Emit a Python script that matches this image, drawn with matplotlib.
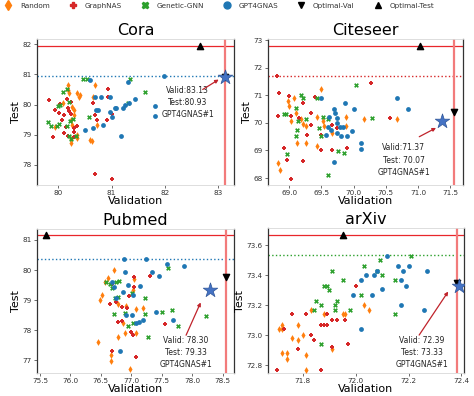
import matplotlib
matplotlib.use("Agg")
import matplotlib.pyplot as plt
from matplotlib.lines import Line2D
from matplotlib.ticker import FormatStrFormatter

# ================= DATA =================
# Cora
cora_rand_val = [80.19, 80.19, 80.21, 80.35, 80.38, 80.41, 80.26, 80.29, 80.30, 80.23, 80.26,
                 80.35, 80.24, 80.23, 80.35, 80.69, 80.66, 80.73, 80.60, 80.63, 79.94, 80.09]
cora_rand_test = [80.64, 80.48, 80.37, 80.37, 80.26, 80.31, 79.92, 79.81, 79.65, 79.48, 79.32,
                  78.99, 78.84, 78.71, 78.88, 80.64, 80.26, 79.32, 78.82, 78.79, 79.26, 80.06]
cora_gnas_val = [79.82, 79.94, 80.04, 80.01, 80.07, 80.10, 79.91, 80.19, 80.16, 80.23, 80.21, 80.24,
                 80.15, 80.19, 80.30, 80.29, 80.35, 80.30, 80.10, 80.66, 80.68, 80.73, 80.94, 80.94,
                 80.91, 81.01, 80.68, 81.01]
cora_gnas_test = [80.15, 79.81, 80.01, 79.71, 79.48, 79.06, 78.93, 79.90, 80.20, 80.09, 79.79, 79.67,
                  79.26, 78.95, 78.93, 79.21, 79.28, 79.10, 79.65, 80.04, 79.65, 79.48, 80.53, 80.26,
                  79.48, 79.67, 77.68, 77.54]
cora_gen_val = [80.46, 80.53, 81.34, 81.62, 80.09, 80.17, 80.00, 80.03, 79.81, 79.87, 79.97,
                80.02, 80.16, 80.22, 80.28, 80.21, 80.23, 80.33, 80.58, 81.30, 80.20]
cora_gen_test = [80.86, 80.86, 80.86, 80.41, 80.41, 80.52, 79.95, 80.00, 79.42, 79.30, 79.30,
                 79.34, 79.30, 79.45, 79.53, 78.95, 78.87, 78.95, 79.60, 80.06, 80.10]
cora_gpt_val = [80.59, 81.31, 81.99, 80.68, 80.81, 80.97, 81.44, 80.71, 80.75, 80.97, 81.06,
                81.09, 81.22, 81.26, 81.32, 81.81, 81.82, 81.01, 80.84, 80.65, 80.51, 81.18]
cora_gpt_test = [80.83, 80.75, 80.94, 80.26, 80.26, 80.26, 80.20, 79.81, 79.81, 79.75, 79.88,
                 79.88, 79.88, 80.00, 80.06, 79.95, 79.62, 79.57, 79.33, 79.21, 79.14, 78.95]

# Citeseer
cite_rand_val = [69.50, 69.07, 68.98, 69.00, 69.10, 69.03, 69.18, 69.22, 69.27, 69.13, 69.27,
                 69.44, 69.44, 69.53, 69.54, 69.88, 69.88, 70.16, 70.67, 68.83, 68.86, 69.67]
cite_rand_test = [71.24, 70.91, 70.79, 70.61, 70.37, 70.07, 70.15, 69.98, 69.88, 69.26, 69.26,
                  69.18, 70.22, 70.07, 69.88, 70.22, 69.88, 70.13, 70.13, 68.53, 68.31, 69.62]
cite_gnas_val = [68.81, 68.84, 69.00, 68.83, 69.03, 69.22, 69.40, 69.16, 69.34, 69.28, 69.49, 69.67,
                 69.74, 70.27, 70.57, 68.92, 68.96, 69.21, 69.03, 69.50, 69.67, 69.90, 69.34]
cite_gnas_test = [71.70, 71.09, 70.97, 70.25, 70.25, 70.73, 70.95, 70.19, 69.91, 69.55, 69.58, 69.91,
                  69.82, 71.45, 70.19, 69.10, 68.65, 68.62, 67.98, 69.01, 69.01, 69.10, 70.37]
cite_gen_val = [69.19, 69.22, 69.10, 68.92, 68.95, 69.27, 69.13, 69.10, 68.96, 69.44, 69.53,
                69.60, 69.47, 69.50, 69.76, 69.85, 69.60, 70.04, 70.29, 69.14]
cite_gen_test = [71.03, 70.91, 70.55, 70.31, 70.31, 70.13, 69.76, 69.52, 68.86, 70.91, 70.22,
                 70.15, 69.82, 69.52, 68.98, 68.92, 68.10, 71.36, 70.19, 70.07]
cite_gpt_val = [69.50, 69.86, 70.00, 70.67, 70.84, 69.70, 69.72, 69.75, 69.74, 69.83, 69.79,
                69.75, 69.62, 69.60, 69.57, 69.65, 69.97, 69.81, 69.90, 70.12, 70.12, 69.69]
cite_gpt_test = [70.91, 70.73, 70.51, 70.91, 70.51, 70.51, 70.37, 70.19, 70.00, 69.86, 69.86,
                 69.64, 70.22, 69.86, 69.55, 69.74, 69.70, 69.52, 69.52, 69.26, 69.04, 68.58]

# Pubmed
pub_rand_val = [76.71, 76.61, 76.57, 76.52, 76.49, 77.02, 77.05, 76.78, 76.91, 77.08, 77.20,
                76.86, 76.90, 76.78, 77.08, 76.45, 76.67, 76.66, 76.98]
pub_rand_test = [80.00, 79.74, 79.59, 79.17, 79.00, 79.33, 79.70, 78.86, 78.81, 78.70, 78.72,
                 78.22, 77.89, 77.78, 77.89, 77.59, 77.17, 76.97, 76.70]
pub_gnas_val = [77.05, 77.04, 77.30, 76.65, 76.75, 76.85, 76.93, 76.97, 76.78, 76.85, 76.99,
                77.02, 76.68, 77.07, 77.56, 76.68]
pub_gnas_test = [79.78, 79.44, 79.81, 78.86, 78.92, 78.78, 78.74, 79.14, 78.28, 78.30, 77.94,
                 77.83, 77.30, 77.11, 78.19, 79.52]
pub_gen_val = [76.59, 76.65, 76.69, 76.75, 76.80, 76.74, 76.78, 77.01, 77.22, 76.71, 76.90,
               77.22, 77.02, 76.94, 77.27, 77.51, 77.60, 77.67, 77.76, 78.22]
pub_gen_test = [79.61, 79.55, 79.41, 79.61, 79.63, 79.08, 79.11, 79.22, 79.08, 78.52, 78.56,
                78.52, 78.22, 78.14, 77.78, 78.59, 80.08, 78.68, 78.14, 78.48]
pub_gpt_val = [76.88, 77.24, 77.59, 77.86, 77.34, 77.46, 76.90, 76.68, 76.72, 76.75, 76.87,
               76.94, 77.14, 77.03, 77.01, 77.08, 77.12, 77.19, 77.40, 77.69, 76.82, 76.91]
pub_gpt_test = [80.37, 80.37, 80.20, 80.14, 79.94, 79.81, 79.94, 79.61, 79.44, 79.08, 79.28,
                79.50, 79.47, 79.17, 78.50, 78.22, 78.28, 78.33, 78.59, 78.33, 77.30, 78.50]

# arXiv
arx_rand_val = [71.83, 71.78, 71.71, 71.72, 71.72, 71.76, 71.78, 71.80, 71.72, 71.74, 71.74,
                71.81, 71.81, 71.91, 71.95, 71.96, 72.03, 72.05, 71.88]
arx_rand_test = [73.17, 73.07, 73.04, 73.04, 73.07, 72.98, 72.97, 73.00, 72.88, 72.88, 72.84,
                 72.87, 72.77, 72.91, 73.14, 73.14, 73.20, 73.17, 73.14]
arx_gnas_val = [71.76, 71.81, 72.00, 71.87, 71.88, 71.89, 71.91, 71.93, 71.96, 71.97, 71.83,
                71.84, 71.89, 71.78, 71.91, 71.87, 71.70, 71.73]
arx_gnas_test = [73.14, 73.14, 73.33, 73.07, 73.07, 73.07, 73.10, 73.10, 73.10, 72.94, 73.00,
                 72.97, 73.14, 72.91, 72.92, 72.77, 72.77, 73.04]
arx_gen_val = [72.21, 72.09, 72.03, 72.10, 71.91, 71.95, 71.88, 71.89, 71.90, 71.85, 71.84,
               71.87, 71.92, 71.92, 71.93, 71.98, 72.02, 72.15, 72.15, 71.87, 72.08]
arx_gen_test = [73.53, 73.50, 73.46, 73.40, 73.43, 73.37, 73.33, 73.33, 73.30, 73.23, 73.17,
                73.20, 73.20, 73.17, 73.23, 73.17, 73.27, 73.37, 73.14, 72.94, 73.43]
arx_gpt_val = [72.12, 72.16, 72.18, 72.20, 72.27, 72.08, 72.07, 72.04, 72.02, 72.17, 72.19,
               72.10, 71.99, 72.06, 72.17, 72.26, 72.02]
arx_gpt_test = [73.53, 73.46, 73.43, 73.46, 73.43, 73.43, 73.40, 73.40, 73.37, 73.37, 73.33,
                73.31, 73.27, 73.27, 73.20, 73.17, 73.04]

datasets = ["Cora", "Citeseer", "Pubmed", "arXiv"]
best_val = [83.13, 71.37, 78.30, 72.39]
best_test = [80.93, 70.07, 79.33, 73.33]
# optimal-val point (black v) and optimal-test point (black ^)
opt_val_x = [83.13, 71.56, 78.55, 72.385]
opt_val_y = [80.93, 70.40, 79.77, 73.35]
opt_test_x = [82.65, 71.03, 75.60, 71.95]
opt_test_y = [81.96, 72.78, 81.17, 73.667]
search_best_test = [80.95, 71.72, 80.37, 73.533]
search_best_color = ["#1f77b4", "#d62728", "#1f77b4", "#2ca02c"]

series_val = [
    [cora_rand_val, cora_gnas_val, cora_gen_val, cora_gpt_val],
    [cite_rand_val, cite_gnas_val, cite_gen_val, cite_gpt_val],
    [pub_rand_val, pub_gnas_val, pub_gen_val, pub_gpt_val],
    [arx_rand_val, arx_gnas_val, arx_gen_val, arx_gpt_val],
]
series_test = [
    [cora_rand_test, cora_gnas_test, cora_gen_test, cora_gpt_test],
    [cite_rand_test, cite_gnas_test, cite_gen_test, cite_gpt_test],
    [pub_rand_test, pub_gnas_test, pub_gen_test, pub_gpt_test],
    [arx_rand_test, arx_gnas_test, arx_gen_test, arx_gpt_test],
]
series_names = ["Random", "GraphNAS", "Genetic-GNN", "GPT4GNAS"]
series_colors = ["#ff7f0e", "#d62728", "#2ca02c", "#1f77b4"]
series_markers = ["d", "P", "X", "o"]

# ================= LAYOUT =================
axes_rects = [
    [0.078, 0.533, 0.416, 0.368],
    [0.565, 0.533, 0.412, 0.368],
    [0.078, 0.058, 0.416, 0.364],
    [0.565, 0.058, 0.414, 0.366],
]
xlims = [(79.6, 83.3), (68.67, 71.70), (75.45, 78.69), (71.667, 72.41)]
ylims = [(77.33, 82.17), (67.75, 73.04), (76.57, 81.37), (72.747, 73.713)]
xticks = [[80, 81, 82, 83], [69.0, 69.5, 70.0, 70.5, 71.0, 71.5],
          [75.5, 76.0, 76.5, 77.0, 77.5, 78.0, 78.5], [71.8, 72.0, 72.2, 72.4]]
yticks = [[78, 79, 80, 81, 82], [68, 69, 70, 71, 72, 73],
          [77, 78, 79, 80, 81], [72.8, 73.0, 73.2, 73.4, 73.6]]
xfmt = ["%d", "%.1f", "%.1f", "%.1f"]
yfmt = ["%d", "%d", "%d", "%.1f"]
# annotation: text centre, arrow tail, arrow head
text_pos = [(82.43, 80.06), (70.78, 68.65), (77.90, 77.25), (72.25, 72.885)]
arrow_from = [(82.71, 80.50), (71.02, 69.50), (77.90, 77.83), (72.24, 73.00)]
arrow_to = [(83.01, 80.83), (71.28, 69.82), (78.14, 78.92), (72.35, 73.29)]
labels = ["Valid:83.13\nTest:80.93\nGPT4GNAS#1",
          "Valid:71.37\nTest: 70.07\nGPT4GNAS#1",
          "Valid: 78.30\nTest: 79.33\nGPT4GNAS#1",
          "Valid: 72.39\nTest: 73.33\nGPT4GNAS#1"]

# ================= PLOT =================
fig = plt.figure(figsize=(4.74, 3.96), dpi=100)

for i, name in enumerate(datasets):
    ax = fig.add_axes(axes_rects[i])
    for vals, tests, c, m in zip(series_val[i], series_test[i], series_colors, series_markers):
        ax.scatter(vals, tests, s=12, color=c, marker=m, linewidths=0, zorder=3)

    ax.axhline(search_best_test[i], color=search_best_color[i], linestyle=":", lw=1.0, zorder=2)
    ax.axhline(opt_test_y[i], color="#e8262b", lw=0.9, zorder=2)
    ax.axvline(opt_val_x[i], color="#f27b7b", lw=1.6, zorder=2)

    ax.scatter([opt_val_x[i]], [opt_val_y[i]], marker="v", s=20, color="black", zorder=4)
    ax.scatter([opt_test_x[i]], [opt_test_y[i]], marker="^", s=20, color="black", zorder=4)
    ax.scatter([best_val[i]], [best_test[i]], marker="*", s=120, color="#4472c4",
               edgecolors="#2f5597", linewidths=0.5, zorder=5)

    ax.text(text_pos[i][0], text_pos[i][1], labels[i], ha="center", va="center",
            fontsize=5.5, color="#222222", linespacing=1.45, zorder=6)
    ax.annotate("", xy=arrow_to[i], xytext=arrow_from[i],
                arrowprops=dict(arrowstyle="-|>", color="#c0232b", lw=0.9,
                                mutation_scale=5, shrinkA=0, shrinkB=0), zorder=6)

    ax.set_xlim(xlims[i])
    ax.set_ylim(ylims[i])
    ax.set_xticks(xticks[i])
    ax.set_yticks(yticks[i])
    ax.xaxis.set_major_formatter(FormatStrFormatter(xfmt[i]))
    ax.yaxis.set_major_formatter(FormatStrFormatter(yfmt[i]))
    ax.tick_params(labelsize=5.2, length=2, width=0.5, pad=1.5, colors="#333333")

    ax.set_title(name, fontsize=11.5, pad=3)
    ax.set_xlabel("Validation", fontsize=8, labelpad=0)
    ax.set_ylabel("Test", fontsize=8, labelpad=1)

    for side in ["left", "right"]:
        ax.spines[side].set_color("#333333")
        ax.spines[side].set_linewidth(0.9)
    for side in ["top", "bottom"]:
        ax.spines[side].set_color("#d8d8d8")
        ax.spines[side].set_linewidth(0.6)

handles = [Line2D([], [], linestyle="none", marker=m, color=c, markersize=5)
           for m, c in zip(series_markers, series_colors)]
handles += [Line2D([], [], linestyle="none", marker="v", color="black", markersize=5),
            Line2D([], [], linestyle="none", marker="^", color="black", markersize=5)]
leg_labels = series_names + ["Optimal-Val", "Optimal-Test"]
fig.legend(handles, leg_labels, loc="upper left", bbox_to_anchor=(-0.005, 1.01), ncol=6,
           frameon=False, fontsize=5.2, columnspacing=2.6, handletextpad=1.0,
           handlelength=1.2, labelcolor="#333333")

fig.savefig("out.png", dpi=100)
